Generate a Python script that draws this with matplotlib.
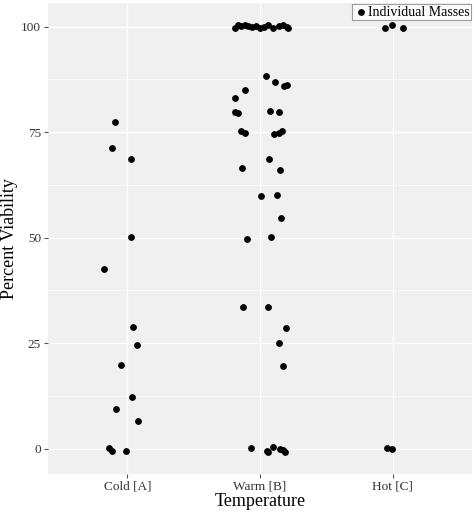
import numpy as np
import matplotlib.pyplot as plt

plt.rcParams['font.family'] = ['Liberation Serif', 'DejaVu Serif']

categories = ['Cold [A]', 'Warm [B]', 'Hot [C]']

# jittered x position (category units) and percent viability for each mass
cold_x = [0.91, 0.885, 1.025, 1.028, 0.825, 1.043, 1.075, 0.95, 1.032, 0.912, 1.083, 0.86, 0.882, 0.992]
cold_y = [77.4, 71.2, 68.7, 50.1, 42.6, 28.8, 24.6, 19.8, 12.3, 9.3, 6.5, 0.2, -0.5, -0.5]

warm_x = [1.81, 1.835, 1.86, 1.885, 1.91, 1.94, 1.97, 2.0, 2.03, 2.06, 2.1, 2.14, 2.17, 2.2, 2.21,
          2.045, 2.11, 2.178, 2.2, 1.89, 1.812, 1.812, 1.832, 2.073, 2.143, 1.86, 1.885, 2.103,
          2.143, 2.165, 2.068, 1.863, 2.148, 2.01, 2.13, 2.158, 1.905, 2.083, 1.87, 2.063,
          2.193, 2.143, 2.17, 1.932, 2.05, 2.063, 2.1, 2.152, 2.17, 2.185]
warm_y = [99.8, 100.3, 100.2, 100.4, 100.1, 99.9, 100.2, 99.7, 100.0, 100.3, 99.6, 100.1, 100.4, 100.0, 99.8,
          88.3, 86.9, 85.9, 86.1, 85.1, 83.0, 79.9, 79.6, 80.1, 79.7, 75.2, 74.9, 74.5,
          74.9, 75.2, 68.6, 66.6, 66.0, 59.9, 60.2, 54.6, 49.6, 50.2, 33.6, 33.5,
          28.7, 25.0, 19.6, 0.2, -0.6, -0.7, 0.4, -0.2, -0.3, -0.8]

hot_x = [2.94, 2.995, 3.075, 2.96, 2.998]
hot_y = [99.8, 100.3, 99.8, 0.2, 0.0]

fig, ax = plt.subplots(figsize=(4.74, 5.14), dpi=100)
fig.subplots_adjust(left=0.101, right=0.996, bottom=0.078, top=0.994)

ax.set_facecolor('#f0f0f0')
ax.grid(True, color='white', linewidth=1.0)
ax.set_axisbelow(True)
ax.set_yticks([12.5, 37.5, 62.5, 87.5], minor=True)
ax.grid(True, which='minor', color='white', linewidth=0.5)
for s in ax.spines.values():
    s.set_visible(False)

all_x = cold_x + warm_x + hot_x
all_y = cold_y + warm_y + hot_y
ax.scatter(all_x, all_y, s=15, color='black', label='Individual Masses', zorder=3)

ax.set_xlim(0.4, 3.6)
ax.set_ylim(-6, 105.6)
ax.set_xticks([1, 2, 3])
ax.set_xticklabels(categories)
ax.set_yticks([0, 25, 50, 75, 100])
ax.tick_params(axis='both', which='major', length=3, color='#555555', labelsize=9.5,
               labelcolor='#333333', pad=2)
ax.tick_params(axis='both', which='minor', length=0)
ax.set_xlabel('Temperature', fontsize=13, labelpad=0)
ax.set_ylabel('Percent Viability', fontsize=13, labelpad=2)

leg = ax.legend(loc='upper right', fontsize=10, handletextpad=0.0, borderpad=0.1,
                borderaxespad=0.1, frameon=True, fancybox=False, markerscale=1.0,
                handlelength=1.0)
leg.get_frame().set_edgecolor('#888888')
leg.get_frame().set_facecolor('white')
leg.get_frame().set_linewidth(0.8)

plt.savefig('out.png', dpi=100)
plt.close()
